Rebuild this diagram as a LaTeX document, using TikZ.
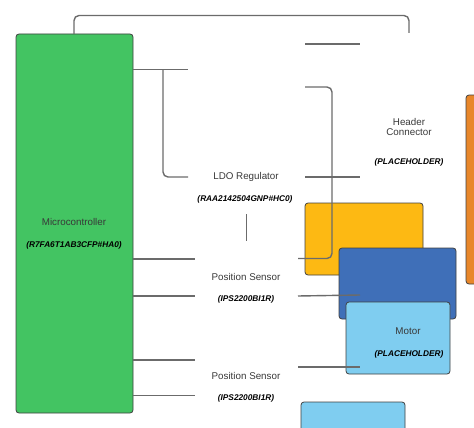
\documentclass[tikz,border=0pt]{standalone}
\usepackage{fontspec}
\setmainfont{Liberation Sans}
\begin{document}
\begin{tikzpicture}[x=1pt,y=-1pt,
  box/.style={draw=black!75,line width=0.8pt,rounded corners=3pt},
  wire/.style={draw=black!58,line width=1.4pt,rounded corners=5pt},
  lbl/.style={text=black!78,font=\fontsize{9.8}{11.2}\selectfont,inner sep=0pt,align=center},
  pn/.style={text=black,font=\fontsize{8.3}{9}\selectfont\bfseries\itshape,inner sep=0pt}]
\useasboundingbox (0,0) rectangle (474,428);
% boxes
\path[box,fill={rgb,255:red,67;green,196;blue,98}] (16,34) rectangle (133,413);
\path[box,fill={rgb,255:red,232;green,135;blue,42}] (466,95) rectangle (480,284);
\path[box,fill={rgb,255:red,253;green,185;blue,19}] (305,203) rectangle (423,275);
\path[box,fill={rgb,255:red,63;green,111;blue,184}] (339,248) rectangle (456,319);
\path[box,fill={rgb,255:red,127;green,205;blue,240}] (346,302) rectangle (450,374);
\path[box,fill={rgb,255:red,127;green,205;blue,240}] (301,402) rectangle (405,440);
% texts
\node[lbl] (mcu) at (74,222) {Microcontroller};
\node[pn] (mcupn) at (74,245) {(R7FA6T1AB3CFP\#HA0)};
\node[lbl] (ldo) at (246,177) {LDO Regulator};
\node[pn] (ldopn) at (245,199) {(RAA2142504GNP\#HC0)};
\node[lbl] (ps1) at (246,277) {Position Sensor};
\node[pn] (ps1pn) at (246,299) {(IPS2200BI1R)};
\node[lbl] (ps2) at (246,376) {Position Sensor};
\node[pn] (ps2pn) at (246,398) {(IPS2200BI1R)};
\node[lbl] (hdr) at (409,127) {Header\\[-1.5pt]Connector};
\node[pn] (hdrpn) at (409,162) {(PLACEHOLDER)};
\node[lbl] (mot) at (408,331) {Motor};
\node[pn] (motpn) at (409,354) {(PLACEHOLDER)};
% coordinates
\coordinate (t0) at (74,34);
\coordinate (t1) at (409,33);
\coordinate (a0) at (133,69.5);
\coordinate (a1) at (188,69.5);
\coordinate (b0) at (163,69.5);
\coordinate (b1) at (188,177);
\coordinate (c0) at (305,44);
\coordinate (c1) at (360,44);
\coordinate (d0) at (305,177);
\coordinate (d1) at (360,177);
\coordinate (e0) at (305,87);
\coordinate (e1) at (298,258.5);
\coordinate (f0) at (246.5,214);
\coordinate (f1) at (246.5,241);
\coordinate (g0) at (133,259);
\coordinate (g1) at (195,259);
\coordinate (h0) at (133,296);
\coordinate (h1) at (195,296);
\coordinate (i0) at (133,360);
\coordinate (i1) at (195,360);
\coordinate (j0) at (133,395.5);
\coordinate (j1) at (195,395.5);
\coordinate (k0) at (298,296);
\coordinate (k1) at (360,295);
\coordinate (l0) at (298,367);
\coordinate (l1) at (360,367);
% wires
\draw[wire] (t0) |- (240,15.5) -| (t1);
\draw[wire] (a0) -- (a1);
\draw[wire] (b0) |- (b1);
\draw[wire] (c0) -- (c1);
\draw[wire] (d0) -- (d1);
\draw[wire] (e0) -| (332,200) |- (e1);
\draw[wire] (f0) -- (f1);
\draw[wire] (g0) -- (g1);
\draw[wire] (h0) -- (h1);
\draw[wire] (i0) -- (i1);
\draw[wire] (j0) -- (j1);
\draw[wire] (k0) -- (k1);
\draw[wire] (l0) -- (l1);
\end{tikzpicture}
\end{document}
